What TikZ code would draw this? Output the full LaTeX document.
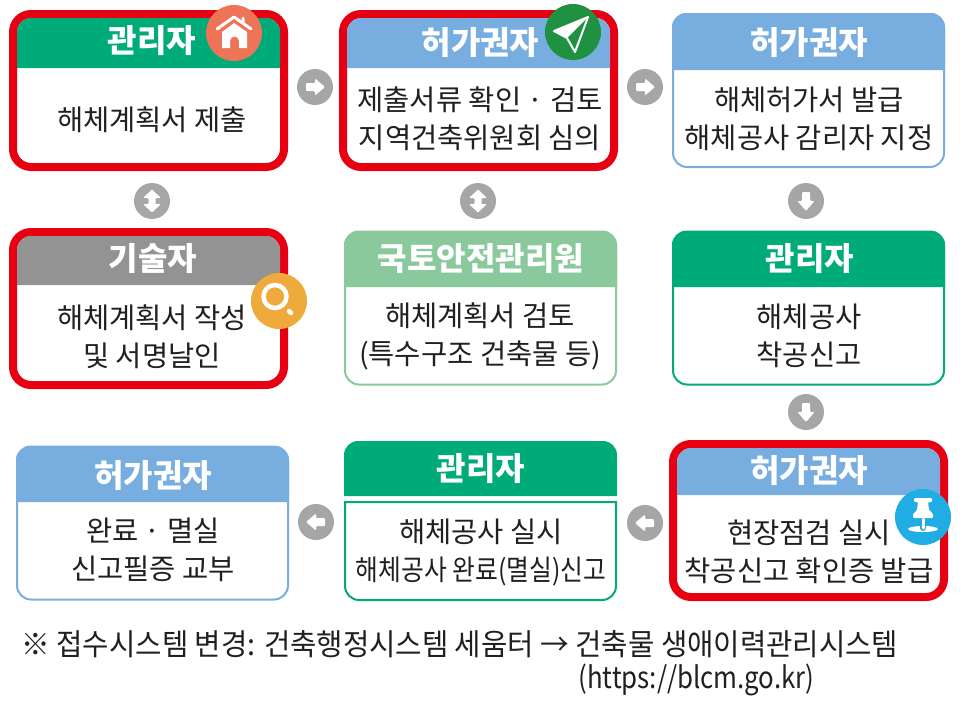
\documentclass[tikz,border=0pt]{standalone}
\usepackage{fontspec}
\usepackage{tikz}
\usetikzlibrary{positioning}
\setmainfont{Noto Sans CJK KR}
\newfontfamily\tightfont[FakeStretch=0.87]{Noto Sans CJK KR}
\newfontfamily\notefont[FakeStretch=0.955]{Noto Sans CJK KR}
\newfontfamily\urlfont[FakeStretch=0.86]{Noto Sans CJK KR}
\definecolor{managergreen}{RGB}{0, 171, 122}
\definecolor{permitblue}{RGB}{119, 174, 223}
\definecolor{writergray}{RGB}{146, 147, 146}
\definecolor{reviewgreen}{RGB}{138, 201, 155}
\definecolor{alertred}{RGB}{230, 0, 18}
\definecolor{badgegray}{RGB}{165, 167, 166}
\definecolor{inkblack}{RGB}{35, 31, 32}
\definecolor{homecoral}{RGB}{238, 116, 87}
\definecolor{sendgreen}{RGB}{31, 145, 64}
\definecolor{lensorange}{RGB}{238, 170, 59}
\definecolor{pinblue}{RGB}{31, 173, 227}
\tikzset{
  panel/.style={rectangle, fill=white, minimum width=#1, outer sep=0pt, inner sep=0pt},
  alertbox/.style={panel=271pt, draw=alertred, line width=8pt, minimum height=153pt, rounded corners=18pt},
  plainbox/.style={panel=271pt, line width=2pt, minimum height=153pt, rounded corners=14pt},
  headtext/.style={text=white, font=\fontsize{32}{36}\selectfont\bfseries},
  bodytext/.style={text=inkblack, align=center, font=\fontsize{28.5}{38}\selectfont},
  notetext/.style={anchor=west, text=inkblack, font=\fontsize{30}{34}\selectfont},
  badge/.style={circle, fill=badgegray, minimum size=36pt, inner sep=0pt},
  iconball/.style={circle, minimum size=56pt, inner sep=0pt},
  head/.style={fill=#1},
  goright/.pic={\fill[white, rounded corners=1pt] (-9,-4) -- (0,-4) -- (0,-8.5) -- (10,0) -- (0,8.5) -- (0,4) -- (-9,4) -- cycle;},
  gobothway/.pic={\fill[white, rounded corners=1pt] (0,-11.5) -- (9,-3) -- (3.5,-3) -- (3.5,3) -- (9,3) -- (0,11.5) -- (-9,3) -- (-3.5,3) -- (-3.5,-3) -- (-9,-3) -- cycle;}
}
\begin{document}
\begin{tikzpicture}[x=1pt, y=-1pt]
  \useasboundingbox (0,0) rectangle (966,705);
  % top row
  \node[alertbox] (submit) at (148.5,90.5) {};
  \fill[head=managergreen] (17,68) [rounded corners=14pt] -- (17,18) -- (280,18) [sharp corners] -- (280,68) -- cycle;
  \node[headtext] (submithead) at (152,41) {관리자};
  \node[bodytext] (submittext) at (152,120) {해체계획서 제출};
  \node[alertbox] (check) at (478.5,90.5) {};
  \fill[head=permitblue] (347,68) [rounded corners=14pt] -- (347,18) -- (610,18) [sharp corners] -- (610,68) -- cycle;
  \node[headtext] (checkhead) at (480.5,42) {허가권자};
  \node[bodytext] (checktext) at (480,119) {제출서류 확인 · 검토\\지역건축위원회 심의};
  \node[plainbox, draw=permitblue] (issue) at (808.5,90.5) {};
  \fill[head=permitblue] (672,70) [rounded corners=14pt] -- (672,13) -- (945,13) [sharp corners] -- (945,70) -- cycle;
  \node[headtext] (issuehead) at (809,42) {허가권자};
  \node[bodytext] (issuetext) at (809,119) {해체허가서 발급\\해체공사 감리자 지정};
  % middle row
  \node[alertbox] (plan) at (148.5,308.5) {};
  \fill[head=writergray] (17,285) [rounded corners=14pt] -- (17,236) -- (280,236) [sharp corners] -- (280,285) -- cycle;
  \node[headtext] (planhead) at (153,259) {기술자};
  \node[bodytext] (plantext) at (152,337) {해체계획서 작성\\및 서명날인};
  \node[plainbox, draw=reviewgreen] (safety) at (480.5,308) {};
  \fill[head=reviewgreen] (344,287) [rounded corners=14pt] -- (344,231) -- (617,231) [sharp corners] -- (617,287) -- cycle;
  \node[headtext] (safetyhead) at (481,259) {국토안전관리원};
  \node[bodytext] (safetytext) at (480,336) {해체계획서 검토\\(특수구조 건축물 등)};
  \node[plainbox, draw=managergreen] (start) at (808.5,308) {};
  \fill[head=managergreen] (672,287) [rounded corners=14pt] -- (672,231) -- (945,231) [sharp corners] -- (945,287) -- cycle;
  \node[headtext] (starthead) at (810,259) {관리자};
  \node[bodytext] (starttext) at (809,336) {해체공사\\착공신고};
  % bottom row
  \node[plainbox, draw=permitblue] (finish) at (152.5,523) {};
  \fill[head=permitblue] (16,502) [rounded corners=14pt] -- (16,446) -- (289,446) [sharp corners] -- (289,502) -- cycle;
  \node[headtext] (finishhead) at (153,475) {허가권자};
  \node[bodytext] (finishtext) at (153,550) {완료 · 멸실\\신고필증 교부};
  \draw[managergreen, line width=2pt] (345,502) -- (616,502) [rounded corners=14pt] -- (616,600) -- (345,600) [sharp corners] -- cycle;
  \fill[head=managergreen] (344,496) [rounded corners=14pt] -- (344,441) -- (617,441) [sharp corners] -- (617,496) -- cycle;
  \node[headtext] (workhead) at (481,469) {관리자};
  \node[bodytext] (worktext) at (481,552) {해체공사 실시\\{\tightfont 해체공사 완료(멸실)신고}};
  \node[alertbox] (visit) at (808.5,520.5) {};
  \fill[head=permitblue] (677,495) [rounded corners=14pt] -- (677,448) -- (940,448) [sharp corners] -- (940,495) -- cycle;
  \node[headtext] (visithead) at (809,470) {허가권자};
  \node[bodytext] (visittext) at (809,552) {현장점검 실시\\착공신고 확인증 발급};
  % arrow badges
  \node[badge] (submitcheck) at (315,87) {};
  \pic at (submitcheck) {goright};
  \node[badge] (checkissue) at (645,87) {};
  \pic at (checkissue) {goright};
  \node[badge] (submitplan) at (152,201) {};
  \pic at (submitplan) {gobothway};
  \node[badge] (checksafety) at (478,201) {};
  \pic at (checksafety) {gobothway};
  \node[badge] (issuestart) at (806,201) {};
  \pic[rotate=-90] at (issuestart) {goright};
  \node[badge] (startvisit) at (806,412) {};
  \pic[rotate=-90] at (startvisit) {goright};
  \node[badge] (visitwork) at (645,523) {};
  \pic[rotate=180] at (visitwork) {goright};
  \node[badge] (workfinish) at (316,522) {};
  \pic[rotate=180] at (workfinish) {goright};
  % icons
  \node[iconball, fill=homecoral] (house) at (234,33) {};
  \begin{scope}[shift={(house)}]
    \draw[white, line width=3pt, line cap=round, line join=round] (-17,-4) -- (0,-16) -- (17,-4) (9,-10) -- (9,-15);
    \fill[white] (-12,-1) -- (0,-10) -- (13,-1) -- (13,15) -- (5,15) -- (5,8) arc[start angle=0, end angle=-180, radius=4.5] -- (-4,15) -- (-12,15) -- cycle;
  \end{scope}
  \node[iconball, fill=sendgreen] (send) at (573,32) {};
  \begin{scope}[shift={(send)}]
    \draw[white, line width=2pt, line join=round] (15,-15) -- (-19,-1) -- (-6,6) -- (2,20) -- cycle;
    \fill[white] (15,-15) -- (-19,-1) -- (-6,6) -- cycle;
  \end{scope}
  \node[iconball, fill=lensorange] (lens) at (279,301) {};
  \begin{scope}[shift={(lens)}]
    \draw[white, line width=4.5pt] (-4,-4.5) circle (11.5);
    \draw[white, line width=4.5pt, line cap=round] (10,10) -- (12,12);
  \end{scope}
  \node[iconball, fill=pinblue] (pin) at (923,517) {};
  \begin{scope}[shift={(pin)}]
    \fill[white] (0,12) ellipse (15 and 3);
    \fill[white, rounded corners=1pt] (-9,-19) -- (9,-19) -- (9,-15) -- (5,-15) -- (6,-7) -- (10,-3) -- (10,1) -- (-10,1) -- (-10,-3) -- (-6,-7) -- (-5,-15) -- (-9,-15) -- cycle;
    \draw[pinblue, line width=6pt, line cap=round] (0,5) -- (0,11);
    \draw[white, line width=3pt, line cap=round] (0,2) -- (0,11);
  \end{scope}
  % note below
  \node[notetext] (noteline) at (18,644) {\notefont ※ 접수시스템 변경: 건축행정시스템 세움터 → 건축물 생애이력관리시스템};
  \node[notetext] (noteurl) at (575,680) {\urlfont (https://blcm.go.kr)};
\end{tikzpicture}
\end{document}
